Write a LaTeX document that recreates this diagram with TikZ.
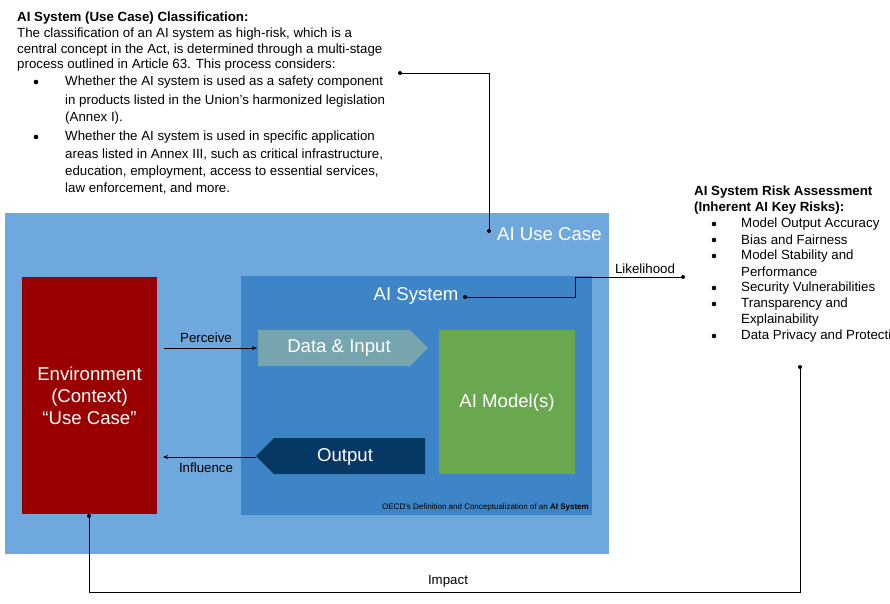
\documentclass[tikz,border=0pt]{standalone}
\usepackage{fontspec}
\setmainfont{Liberation Sans}
\usetikzlibrary{arrows.meta}
\definecolor{outer}{HTML}{6FA8DC}
\definecolor{inner}{HTML}{3D85C6}
\definecolor{env}{HTML}{990000}
\definecolor{din}{HTML}{76A5AF}
\definecolor{outp}{HTML}{073763}
\definecolor{model}{HTML}{6AA84F}
\begin{document}
\begin{tikzpicture}[x=1pt,y=-1pt,
  txt/.style={anchor=west,inner sep=0pt,font=\fontsize{13.3}{15}\selectfont},
  big/.style={text=white,font=\fontsize{18.6}{22}\selectfont,inner sep=0pt},
  bul/.style={circle,fill=black,inner sep=0pt,minimum size=4.6pt},
  lab/.style={inner sep=0pt,font=\fontsize{13.3}{15}\selectfont},
  dot/.style={circle,fill=black,inner sep=0pt,minimum size=4pt},
  conn/.style={draw=black,line width=0.8pt},
  arr/.style={draw=black,line width=0.6pt,-{Stealth[length=5pt,width=4pt]}}]
\useasboundingbox (0,0) rectangle (890,603);
\clip (0,0) rectangle (890,603);
\fill[white] (0,0) rectangle (890,603);
% boxes
\fill[outer] (5,213) rectangle (609,554);
\fill[inner] (241,276) rectangle (592,515);
\node[fill=env,minimum width=135pt,minimum height=237pt,inner sep=0pt] (env) at (89.5,395.5) {};
\fill[din] (258,330) -- (410,330) -- (428,348) -- (410,366) -- (258,366) -- cycle;
\fill[outp] (274,438) -- (425,438) -- (425,474) -- (274,474) -- (256,456) -- cycle;
\node[fill=model,minimum width=136pt,minimum height=144pt,inner sep=0pt] (model) at (507,402) {};
% texts inside
\node[big,align=center] (envt) at (89.5,396) {Environment\\(Context)\\“Use Case”};
\node[big,anchor=west] (uc) at (497,234) {AI Use Case};
\node[big] (sys) at (416,296) {AI System};
\node[big] (data) at (339,348) {Data \& Input};
\node[big] (out) at (345,457) {Output};
\node[big] (mt) at (507,403) {AI Model(s)};
\node[anchor=east,inner sep=0pt,font=\fontsize{8}{9}\selectfont] (oecd) at (589,507) {OECD's Definition and Conceptualization of an \textbf{AI System}};
% arrows
\coordinate (p1) at (164,348);
\coordinate (p2) at (257,348);
\coordinate (i1) at (256,457);
\coordinate (i2) at (163,457);
\draw[arr] (p1) -- (p2);
\draw[arr] (i1) -- (i2);
\node[lab] (perc) at (206,338) {Perceive};
\node[lab] (infl) at (206,468) {Influence};
% top-left text
\node[txt,font=\bfseries\fontsize{13.3}{15}\selectfont] (h1) at (17,18) {AI System (Use Case) Classification:};
\node[txt] (l1) at (17,34) {The classification of an AI system as high-risk, which is a};
\node[txt] (l2) at (17,50) {central concept in the Act, is determined through a multi-stage};
\node[txt] (l3) at (17,65) {process outlined in Article 63. This process considers:};
\node[bul] (b1) at (36,82) {};
\node[txt] (l4) at (65,82) {Whether the AI system is used as a safety component};
\node[txt] (l5) at (65,101) {in products listed in the Union's harmonized legislation};
\node[txt] (l6) at (65,118) {(Annex I).};
\node[bul] (b2) at (36,137) {};
\node[txt] (l7) at (65,137) {Whether the AI system is used in specific application};
\node[txt] (l8) at (65,155) {areas listed in Annex III, such as critical infrastructure,};
\node[txt] (l9) at (65,172) {education, employment, access to essential services,};
\node[txt] (l10) at (65,189) {law enforcement, and more.};
% right text
\node[txt,font=\bfseries\fontsize{13.3}{15}\selectfont] (h2) at (694,192) {AI System Risk Assessment};
\node[txt,font=\bfseries\fontsize{13.3}{15}\selectfont] (h3) at (694,208) {(Inherent AI Key Risks):};
\foreach \y/\t [count=\i] in {224/Model Output Accuracy,240/Bias and Fairness,256/Model Stability and,272/Performance,288/Security Vulnerabilities,304/Transparency and,320/Explainability,336/Data Privacy and Protection}{
  \node[txt] (r\i) at (741,\y) {\t};
}
\foreach \y in {224,240,256,288,304,336}{\node[bul] at (714,\y) {};}
% connectors
\coordinate (c1a) at (400,73);
\coordinate (c1b) at (489,231);
\draw[conn] (c1a) -| (c1b);
\node[dot] at (c1a) {}; \node[dot] at (c1b) {};
\coordinate (c2a) at (465,297);
\coordinate (c2m) at (575,277);
\coordinate (c2b) at (683,277);
\draw[conn] (c2a) -- (c2a -| c2m) -- (c2m) -- (c2b);
\node[dot] at (c2a) {}; \node[dot] at (c2b) {};
\node[lab] (lik) at (645,269) {Likelihood};
\coordinate (c3a) at (89,516);
\coordinate (c3b) at (800,367);
\draw[conn] (c3a) -- (89,592) -- (800,592) -- (c3b);
\node[dot] at (c3a) {}; \node[dot] at (c3b) {};
\node[lab] (imp) at (448,581) {Impact};
\end{tikzpicture}
\end{document}
